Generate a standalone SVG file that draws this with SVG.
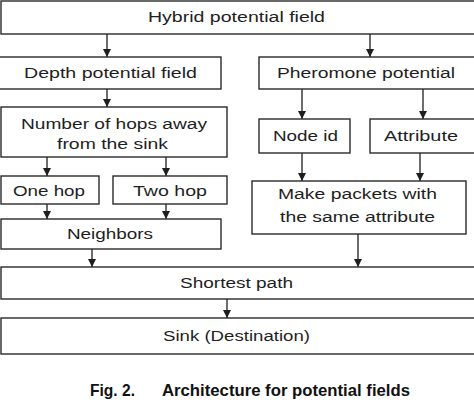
<svg xmlns="http://www.w3.org/2000/svg" width="474" height="406" viewBox="0 0 474 406">
<defs>
<style>
rect.b{fill:#fff;stroke:#2a2a2a;stroke-width:1.4}
text{font-family:"Liberation Sans",Arial,sans-serif;font-size:14px;fill:#1e1e1e}
text.cap{font-weight:bold;font-size:17px;fill:#111}
line.c{stroke:#1e1e1e;stroke-width:1.3}
</style>
<marker id="ah" viewBox="0 0 8 8" refX="8" refY="4" markerWidth="8" markerHeight="8" markerUnits="userSpaceOnUse" orient="auto">
<path d="M0,0 L8,4 L0,8 Z" fill="#1e1e1e"/>
</marker>
</defs>
<rect width="474" height="406" fill="#fff"/>
<g id="connectors">
<line class="c" x1="107" y1="34" x2="107" y2="57" marker-end="url(#ah)"/>
<line class="c" x1="370" y1="34" x2="370" y2="57" marker-end="url(#ah)"/>
<line class="c" x1="107" y1="89" x2="107" y2="107" marker-end="url(#ah)"/>
<line class="c" x1="302" y1="89" x2="302" y2="119" marker-end="url(#ah)"/>
<line class="c" x1="423" y1="89" x2="423" y2="119" marker-end="url(#ah)"/>
<line class="c" x1="47" y1="157" x2="47" y2="176" marker-end="url(#ah)"/>
<line class="c" x1="166" y1="157" x2="166" y2="176" marker-end="url(#ah)"/>
<line class="c" x1="302" y1="153" x2="302" y2="181" marker-end="url(#ah)"/>
<line class="c" x1="420" y1="153" x2="420" y2="181" marker-end="url(#ah)"/>
<line class="c" x1="47" y1="204" x2="47" y2="219" marker-end="url(#ah)"/>
<line class="c" x1="166" y1="204" x2="166" y2="219" marker-end="url(#ah)"/>
<line class="c" x1="92" y1="249" x2="92" y2="267" marker-end="url(#ah)"/>
<line class="c" x1="358" y1="234" x2="358" y2="267" marker-end="url(#ah)"/>
<line class="c" x1="227" y1="299" x2="227" y2="318" marker-end="url(#ah)"/>
</g>
<g id="hybrid"><rect class="b" x="1" y="1" width="480" height="33"/><text x="148" y="22" textLength="177" lengthAdjust="spacingAndGlyphs">Hybrid potential field</text></g>
<g id="depth"><rect class="b" x="-2" y="57" width="223" height="32"/><text x="24" y="78" textLength="173" lengthAdjust="spacingAndGlyphs">Depth potential field</text></g>
<g id="pheromone"><rect class="b" x="259" y="57" width="222" height="32"/><text x="277" y="78" textLength="178" lengthAdjust="spacingAndGlyphs">Pheromone potential</text></g>
<g id="hops"><rect class="b" x="1" y="107" width="226" height="50"/><text x="21" y="129" textLength="186" lengthAdjust="spacingAndGlyphs">Number of hops away</text><text x="57" y="149" textLength="111" lengthAdjust="spacingAndGlyphs">from the sink</text></g>
<g id="nodeid"><rect class="b" x="259" y="119" width="91" height="34"/><text x="273" y="141" textLength="65" lengthAdjust="spacingAndGlyphs">Node id</text></g>
<g id="attribute"><rect class="b" x="370" y="119" width="111" height="34"/><text x="384" y="141" textLength="74" lengthAdjust="spacingAndGlyphs">Attribute</text></g>
<g id="onehop"><rect class="b" x="1" y="176" width="98" height="28"/><text x="13" y="196" textLength="72" lengthAdjust="spacingAndGlyphs">One hop</text></g>
<g id="twohop"><rect class="b" x="113" y="176" width="114" height="28"/><text x="133" y="196" textLength="74" lengthAdjust="spacingAndGlyphs">Two hop</text></g>
<g id="packets"><rect class="b" x="252" y="181" width="214" height="53"/><text x="278" y="199" textLength="159" lengthAdjust="spacingAndGlyphs">Make packets with</text><text x="280" y="222" textLength="155" lengthAdjust="spacingAndGlyphs">the same attribute</text></g>
<g id="neighbors"><rect class="b" x="1" y="219" width="220" height="30"/><text x="67" y="239" textLength="86" lengthAdjust="spacingAndGlyphs">Neighbors</text></g>
<g id="shortest"><rect class="b" x="1" y="267" width="480" height="32"/><text x="180" y="288" textLength="113" lengthAdjust="spacingAndGlyphs">Shortest path</text></g>
<g id="sink"><rect class="b" x="1" y="318" width="480" height="36"/><text x="163" y="341" textLength="147" lengthAdjust="spacingAndGlyphs">Sink (Destination)</text></g>
<text class="cap" x="90" y="396" textLength="45" lengthAdjust="spacingAndGlyphs">Fig. 2.</text>
<text class="cap" x="162" y="396" textLength="248" lengthAdjust="spacingAndGlyphs">Architecture for potential fields</text>
</svg>
